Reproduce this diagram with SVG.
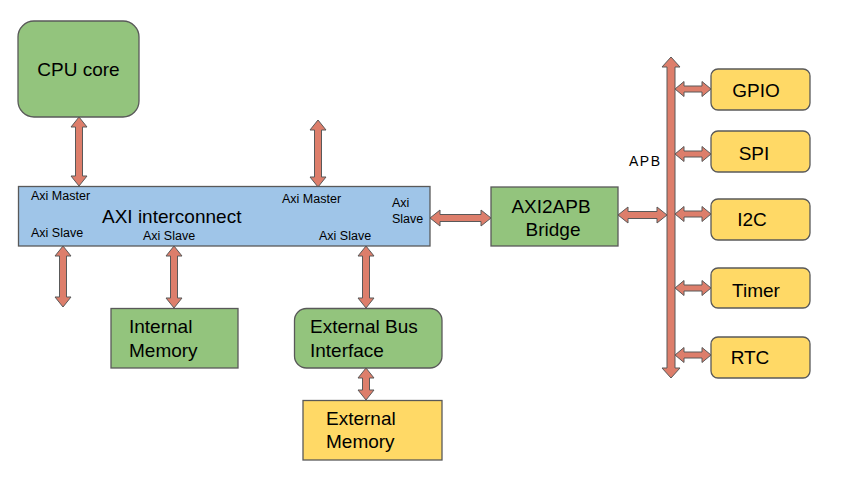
<svg xmlns="http://www.w3.org/2000/svg" xmlns:xlink="http://www.w3.org/1999/xlink" width="859" height="479" viewBox="0 0 859 479">
<style>
.green{fill:#93c47d;stroke:#595959;stroke-width:1.3}
.blue{fill:#9fc5e8;stroke:#595959;stroke-width:1.3}
.yellow{fill:#ffd966;stroke:#595959;stroke-width:1.3}
.arr{fill:#dd7e6b;stroke:#595959;stroke-width:1}
text{font-family:"Liberation Sans",Arial,sans-serif;fill:#000}
.big{font-size:19px}
.small{font-size:12.5px}
.apb{font-size:14px;letter-spacing:1.5px}
.mid{text-anchor:middle}
</style>
<defs>
<polygon id="parr" class="arr" points="675,0 684,-7.5 684,-3 702,-3 702,-7.5 711,0 702,7.5 702,3 684,3 684,7.5"/>
</defs>
<rect width="859" height="479" fill="#fff"/>
<g id="connectors">
<polygon class="arr" points="79,117 87,127 82.5,127 82.5,176 87,176 79,186 71,176 75.5,176 75.5,127 71,127"/>
<polygon class="arr" points="318,120 326,130 321.5,130 321.5,177 326,177 318,187 310,177 314.5,177 314.5,130 310,130"/>
<polygon class="arr" points="63,246 71,256 66.5,256 66.5,297 71,297 63,307 55,297 59.5,297 59.5,256 55,256"/>
<polygon class="arr" points="174,246 182,256 177.5,256 177.5,298 182,298 174,308 166,298 170.5,298 170.5,256 166,256"/>
<polygon class="arr" points="366,246 374,256 369.5,256 369.5,298 374,298 366,308 358,298 362.5,298 362.5,256 358,256"/>
<polygon class="arr" points="366,368 374,378 369.5,378 369.5,390 374,390 366,400 358,390 362.5,390 362.5,378 358,378"/>
<polygon class="arr" points="430,218 440,210 440,214.5 481,214.5 481,210 491,218 481,226 481,221.5 440,221.5 440,226"/>
<polygon class="arr" points="618,215 628,207 628,211.5 657,211.5 657,207 667,215 657,223 657,218.5 628,218.5 628,223"/>
<polygon class="arr" points="671,57 680,67 675,67 675,368 680,368 671,378 662,368 667,368 667,67 662,67"/>
<use xlink:href="#parr" href="#parr" y="89"/>
<use xlink:href="#parr" href="#parr" y="154"/>
<use xlink:href="#parr" href="#parr" y="214"/>
<use xlink:href="#parr" href="#parr" y="288"/>
<use xlink:href="#parr" href="#parr" y="355"/>
<text class="apb" x="629" y="166">APB</text>
</g>
<g id="cpu">
<rect class="green" x="18" y="21" width="121" height="96" rx="16"/>
<text class="big mid" x="78.5" y="76">CPU core</text>
</g>
<g id="axi">
<rect class="blue" x="18.5" y="186.5" width="411.5" height="59.5"/>
<text class="big" x="102" y="223">AXI interconnect</text>
<text class="small" x="31" y="200">Axi Master</text>
<text class="small" x="31" y="237">Axi Slave</text>
<text class="small" x="143" y="240">Axi Slave</text>
<text class="small" x="282" y="203">Axi Master</text>
<text class="small" x="392" y="207">Axi</text>
<text class="small" x="392" y="223">Slave</text>
<text class="small" x="319" y="240">Axi Slave</text>
</g>
<g id="bridge">
<rect class="green" x="491" y="187" width="127" height="59"/>
<text class="big mid" x="551" y="213">AXI2APB</text>
<text class="big mid" x="553" y="236">Bridge</text>
</g>
<g id="internal-memory">
<rect class="green" x="111" y="308.5" width="127" height="59.5"/>
<text class="big" x="129" y="333">Internal</text>
<text class="big" x="129" y="357">Memory</text>
</g>
<g id="ebi">
<rect class="green" x="294.5" y="308.5" width="147.5" height="59.5" rx="12"/>
<text class="big" x="310" y="333">External Bus</text>
<text class="big" x="310" y="357">Interface</text>
</g>
<g id="external-memory">
<rect class="yellow" x="303" y="400.5" width="139" height="59.5"/>
<text class="big" x="326" y="425">External</text>
<text class="big" x="326" y="448">Memory</text>
</g>
<g id="gpio">
<rect class="yellow" x="711" y="69" width="99" height="41" rx="7"/>
<text class="big mid" x="756" y="97">GPIO</text>
</g>
<g id="spi">
<rect class="yellow" x="711" y="131" width="99" height="41" rx="7"/>
<text class="big mid" x="754" y="160">SPI</text>
</g>
<g id="i2c">
<rect class="yellow" x="711" y="199" width="99" height="41" rx="7"/>
<text class="big mid" x="752" y="226">I2C</text>
</g>
<g id="timer">
<rect class="yellow" x="711" y="268" width="99" height="40" rx="7"/>
<text class="big mid" x="756" y="297">Timer</text>
</g>
<g id="rtc">
<rect class="yellow" x="711" y="337" width="99" height="41" rx="7"/>
<text class="big mid" x="750" y="364">RTC</text>
</g>
</svg>
